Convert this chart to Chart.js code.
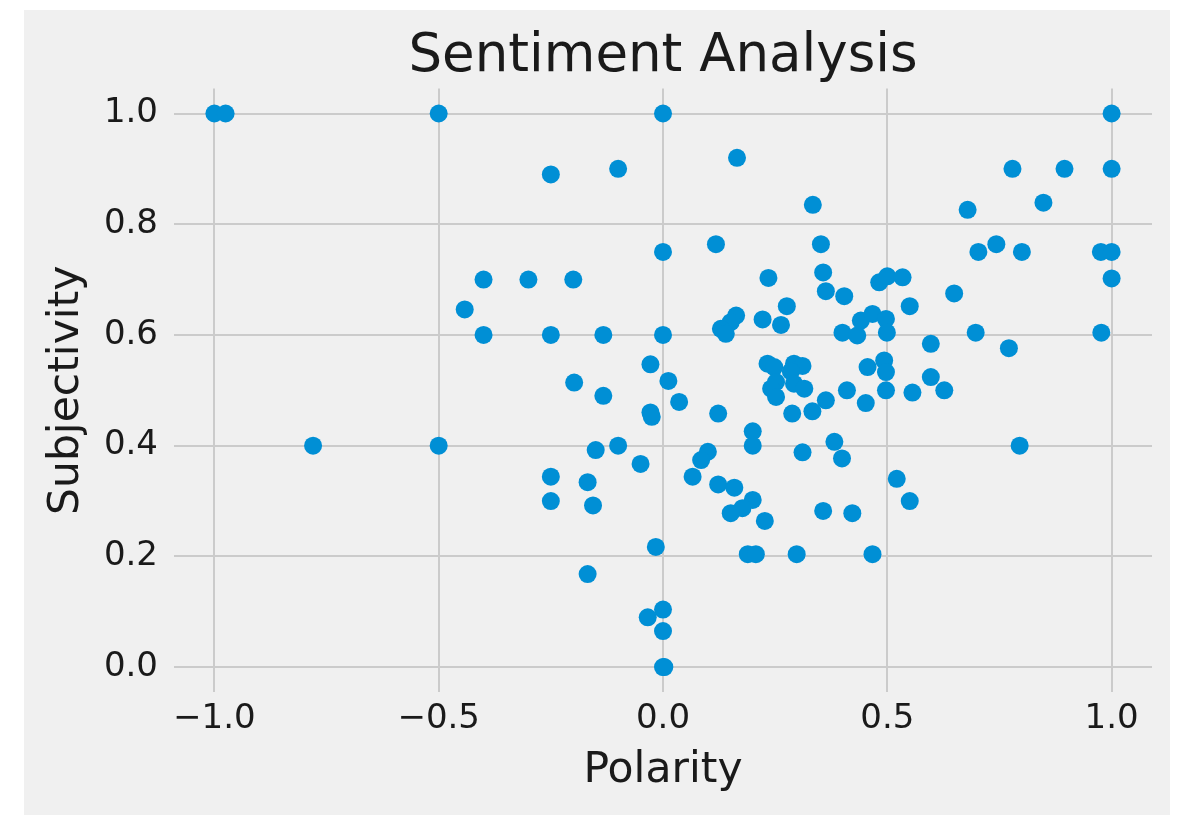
<html>
<head>
<meta charset="utf-8">
<script src="https://cdn.jsdelivr.net/npm/chart.js@4.4.1/dist/chart.umd.min.js"></script>
<style>
body { margin:0; background:#ffffff; }
#box { position:absolute; left:24px; top:10px; width:1146px; height:805px; background:#f0f0f0; }
</style>
</head>
<body>
<div id="box"><canvas id="chartjs-scatter" width="1146" height="805"></canvas></div>
<script>
var polarity = [
  -1.0, -0.975, -0.5, 0.0, -0.25, -0.1, 0.0, -0.4, -0.3, -0.2,
  -0.442, -0.4, -0.25, -0.133, 0.0, -0.028, 0.012, -0.198, -0.133, -0.028,
  -0.025, -0.78, -0.5, -0.15, -0.1, -0.05, -0.25, -0.168, -0.25, -0.156,
  -0.016, -0.168, 0.0, -0.034, 0.0, 0.0, 0.003,
  1.0, 0.165, 0.779, 0.895, 1.0, 0.334, 0.679, 0.848, 0.118, 0.352,
  0.703, 0.743, 0.8, 0.976, 1.0, 1.0, 0.357, 0.363, 0.404, 0.235,
  0.482, 0.5, 0.534, 0.55, 0.649, 0.276, 0.222, 0.263, 0.163, 0.151,
  0.129, 0.14, 0.4, 0.433, 0.441, 0.467, 0.497, 0.499, 0.597, 0.697,
  0.771, 0.977, 0.233, 0.248, 0.292, 0.311, 0.285, 0.252, 0.241, 0.252,
  0.292, 0.315, 0.363, 0.41, 0.456, 0.493, 0.497, 0.597, 0.497, 0.556,
  0.627, 0.452, 0.036, 0.123, 0.2, 0.2, 0.1, 0.085, 0.066, 0.123,
  0.159, 0.2, 0.177, 0.151, 0.227, 0.311, 0.382, 0.399, 0.357, 0.422,
  0.189, 0.207, 0.298, 0.467, 0.288, 0.333, 0.521, 0.55, 0.795
];
var subjectivity = [
  1.0, 1.0, 1.0, 1.0, 0.89, 0.9, 0.75, 0.7, 0.7, 0.7,
  0.646, 0.6, 0.6, 0.6, 0.6, 0.547, 0.517, 0.514, 0.49, 0.46,
  0.452, 0.4, 0.4, 0.392, 0.4, 0.367, 0.344, 0.334, 0.3, 0.292,
  0.217, 0.168, 0.104, 0.09, 0.065, 0.0, 0.0,
  1.0, 0.92, 0.9, 0.9, 0.9, 0.835, 0.826, 0.839, 0.764, 0.764,
  0.75, 0.764, 0.75, 0.75, 0.75, 0.702, 0.713, 0.679, 0.67, 0.703,
  0.695, 0.706, 0.704, 0.652, 0.675, 0.652, 0.628, 0.618, 0.635, 0.623,
  0.611, 0.602, 0.604, 0.599, 0.626, 0.638, 0.629, 0.604, 0.584, 0.604,
  0.576, 0.604, 0.548, 0.542, 0.548, 0.544, 0.534, 0.515, 0.503, 0.488,
  0.512, 0.503, 0.482, 0.5, 0.542, 0.554, 0.533, 0.524, 0.5, 0.496,
  0.5, 0.477, 0.479, 0.458, 0.426, 0.4, 0.389, 0.374, 0.344, 0.33,
  0.324, 0.302, 0.287, 0.278, 0.264, 0.388, 0.407, 0.377, 0.282, 0.278,
  0.204, 0.204, 0.204, 0.204, 0.458, 0.462, 0.34, 0.3, 0.4
];
var xTicks = [-1.0, -0.5, 0.0, 0.5, 1.0];
var yTicks = [0.0, 0.2, 0.4, 0.6, 0.8, 1.0];

var points = [];
for (var i = 0; i < polarity.length; i++) {
  points.push({x: polarity[i], y: subjectivity[i]});
}

function fmt(v) {
  var s = Math.abs(v).toFixed(1);
  return v < -0.0001 ? '\u2212' + s : s;
}

var textColor = '#1a1a1a';
var gridColor = '#cbcbcb';
var fontFamily = '"DejaVu Sans", sans-serif';

new Chart(document.getElementById("chartjs-scatter"), {
  type: "scatter",
  data: {
    datasets: [{
      label: "Sentiment",
      data: points,
      backgroundColor: "#008fd5",
      borderWidth: 0,
      pointRadius: 9,
      pointHoverRadius: 9
    }]
  },
  options: {
    responsive: false,
    animation: false,
    layout: { padding: { left: 0, right: 18, top: 0, bottom: 0 } },
    plugins: {
      legend: { display: false },
      tooltip: { enabled: false },
      title: {
        display: true,
        fullSize: false,
        text: "Sentiment Analysis",
        color: textColor,
        font: { family: fontFamily, size: 53, weight: 'normal' },
        padding: { top: 15, bottom: 0 }
      }
    },
    scales: {
      x: {
        type: 'linear',
        min: -1.09,
        max: 1.09,
        border: { display: false },
        grid: { color: gridColor, lineWidth: 2, drawTicks: false },
        afterBuildTicks: function(scale) {
          scale.ticks = xTicks.map(function(v) { return {value: v}; });
        },
        afterFit: function(scale) { scale.height = 123; },
        ticks: {
          color: textColor,
          padding: 7,
          maxRotation: 0,
          font: { family: fontFamily, size: 34 },
          callback: function(v) { return fmt(v); }
        },
        title: {
          display: true,
          text: "Polarity",
          color: textColor,
          font: { family: fontFamily, size: 42.5 },
          padding: { top: 0, bottom: 19 }
        }
      },
      y: {
        type: 'linear',
        min: -0.045,
        max: 1.045,
        border: { display: false },
        grid: { color: gridColor, lineWidth: 2, drawTicks: false },
        afterBuildTicks: function(scale) {
          scale.ticks = yTicks.map(function(v) { return {value: v}; });
        },
        afterFit: function(scale) { scale.width = 150; },
        ticks: {
          color: textColor,
          padding: 16,
          font: { family: fontFamily, size: 34 },
          callback: function(v) { return fmt(v); }
        },
        title: {
          display: true,
          text: "Subjectivity",
          color: textColor,
          font: { family: fontFamily, size: 42.5 },
          padding: { top: 17, bottom: 0 }
        }
      }
    }
  }
});
</script>
</body>
</html>
